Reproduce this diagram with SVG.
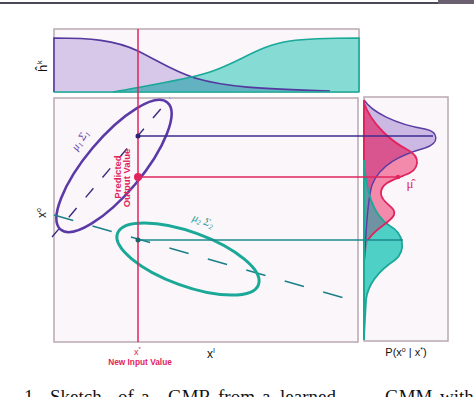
<svg xmlns="http://www.w3.org/2000/svg" width="474" height="397" viewBox="0 0 474 397">
<defs>
<style>
.panel{fill:#fbf6f9;stroke:#b9a9b1;stroke-width:1.5}
.lab{font-family:"Liberation Sans",Arial,sans-serif;fill:#111}
.red{fill:#e0245e}
.bold{font-family:"Liberation Sans",Arial,sans-serif;font-weight:bold;fill:#e0245e}
.greek{font-family:"Liberation Serif","Times New Roman",serif;font-style:italic}
.cap{font-family:"Liberation Serif","Times New Roman",serif;font-size:19px;fill:#111}
</style>
<clipPath id="cpTopP"><path d="M54,38 C90,38 115,40 138,51 C160,62 175,72 195,78 C225,87 260,89 330,91 L54,92 Z"/></clipPath>
<clipPath id="cpRP"><path d="M364,100 C372,112 395,124 425,129 C439,132 440,143 425,148 C400,155 380,165 372,185 C366,205 366,245 364,265 Z"/></clipPath>
<clipPath id="cpRT"><path d="M364,160 C366,190 372,215 390,226 C403,233 407,250 395,260 C380,270 368,282 366,300 C365,320 364,335 364,340 Z"/></clipPath>
</defs>

<!-- top rule -->
<rect x="0" y="2" width="474" height="2" fill="#4a4a55"/>
<rect x="438" y="0" width="36" height="4" fill="#6b6070"/>

<!-- top panel: responsibilities -->
<g id="top-panel">
<rect class="panel" x="54" y="29" width="305" height="63"/>
<path d="M54,38 C90,38 115,40 138,51 C160,62 175,72 195,78 C225,87 260,89 330,91 L54,92 Z" fill="#d7c8ea"/>
<path d="M113,92 C150,85 185,80 210,72 C240,62 260,45 290,41 C310,38 330,38 359,38 L359,92 Z" fill="#86dbd5"/>
<path d="M113,92 C150,85 185,80 210,72 C240,62 260,45 290,41 C310,38 330,38 359,38 L359,92 Z" fill="#62b2c2" clip-path="url(#cpTopP)"/>
<path d="M54,92 L54,38 C90,38 115,40 138,51 C160,62 175,72 195,78 C225,87 260,89 330,91" fill="none" stroke="#54389e" stroke-width="1.6"/>
<path d="M54,92 L359,92" fill="none" stroke="#1aa898" stroke-width="1.4"/>
<path d="M113,92 C150,85 185,80 210,72 C240,62 260,45 290,41 C310,38 330,38 359,38 L359,92" fill="none" stroke="#1aa898" stroke-width="1.6"/>
<text class="lab" font-size="13" transform="translate(47,72) rotate(-90)">ĥ</text>
<text class="lab" font-size="7" transform="translate(42,64) rotate(-90)">k</text>
</g>

<!-- main panel -->
<g id="main-panel">
<rect class="panel" x="54" y="98" width="304" height="244"/>
</g>

<!-- right panel -->
<g id="right-panel">
<rect class="panel" x="364" y="97" width="84" height="244"/>
<path d="M364,100 C372,112 395,124 425,129 C439,132 440,143 425,148 C400,155 380,165 372,185 C366,205 366,245 364,265 Z" fill="#cbb8e3"/>
<path d="M364,160 C366,190 372,215 390,226 C403,233 407,250 395,260 C380,270 368,282 366,300 C365,320 364,335 364,340 Z" fill="#4fd0c6"/>
<path d="M364,103 C372,125 392,142 408,150 C421,157 420,170 405,175 C392,180 380,184 381,194 C382,204 397,207 394,215 C390,223 375,228 368,240 C366,250 365,260 364,265 Z" fill="#f48aab"/>
<path d="M364,103 C372,125 392,142 408,150 C421,157 420,170 405,175 C392,180 380,184 381,194 C382,204 397,207 394,215 C390,223 375,228 368,240 C366,250 365,260 364,265 Z" fill="#d9558f" clip-path="url(#cpRP)"/>
<path d="M364,103 C372,125 392,142 408,150 C421,157 420,170 405,175 C392,180 380,184 381,194 C382,204 397,207 394,215 C390,223 375,228 368,240 C366,250 365,260 364,265 Z" fill="#6f93a2" clip-path="url(#cpRT)"/>
<path d="M364,100 C372,112 395,124 425,129 C439,132 440,143 425,148 C400,155 380,165 372,185 C366,205 366,245 364,265" fill="none" stroke="#5a3ca5" stroke-width="1.4"/>
<path d="M364,160 C366,190 372,215 390,226 C403,233 407,250 395,260 C380,270 368,282 366,300 C365,320 364,335 364,340" fill="none" stroke="#1aa898" stroke-width="1.8"/>
<path d="M364,103 C372,125 392,142 408,150 C421,157 420,170 405,175 C392,180 380,184 381,194 C382,204 397,207 394,215 C390,223 375,228 368,240" fill="none" stroke="#e0245e" stroke-width="1.8"/>
<line x1="364" y1="100" x2="364" y2="340" stroke="#1aa898" stroke-width="2"/>
<line x1="364" y1="100" x2="364" y2="160" stroke="#e0245e" stroke-width="2"/>
</g>

<!-- gaussian components -->
<g id="component-1">
<path d="M52,237 L170,98" fill="none" stroke="#3a2b80" stroke-width="1.4" stroke-dasharray="12,14"/>
<ellipse cx="114" cy="166" rx="83" ry="28" transform="rotate(-50 114 166)" fill="none" stroke="#5b3aa8" stroke-width="2.6"/>
<text class="greek" font-size="11" fill="#5b3aa8" text-anchor="middle" transform="translate(83,142) rotate(-57)">μ<tspan font-size="7" dy="2">1</tspan><tspan dy="-2"> Σ</tspan><tspan font-size="7" dy="2">1</tspan></text>
</g>
<g id="component-2">
<path d="M54,215 L358,302" fill="none" stroke="#1a7f86" stroke-width="1.4" stroke-dasharray="20,20"/>
<ellipse cx="188" cy="259" rx="75" ry="27" transform="rotate(20 188 259)" fill="none" stroke="#1aa898" stroke-width="3"/>
<text class="greek" font-size="11" fill="#1a9a96" text-anchor="middle" transform="translate(202,224) rotate(20)">μ<tspan font-size="7" dy="2">2</tspan><tspan dy="-2"> Σ</tspan><tspan font-size="7" dy="2">2</tspan></text>
</g>

<!-- connectors -->
<g id="connectors">
<line x1="138" y1="29" x2="138" y2="342" stroke="#e0245e" stroke-width="1.5"/>
<line x1="138" y1="136" x2="433" y2="136" stroke="#3c2d8f" stroke-width="1.5"/>
<line x1="138" y1="177" x2="398" y2="177" stroke="#e0245e" stroke-width="1.6"/>
<line x1="138" y1="240" x2="403" y2="240" stroke="#1a8a8e" stroke-width="1.5"/>
<circle cx="138" cy="136" r="2.5" fill="#2c2478"/>
<circle cx="138" cy="177" r="4" fill="#e0245e"/>
<circle cx="398" cy="177" r="2.2" fill="#e0245e"/>
<circle cx="138" cy="240" r="2.5" fill="#17666e"/>
</g>

<!-- labels -->
<g id="labels">
<text class="bold" font-size="9.5" text-anchor="middle" transform="translate(121,177) rotate(-90)">Predicted</text>
<text class="bold" font-size="9.5" text-anchor="middle" transform="translate(130,178) rotate(-90)">Output Value</text>
<text font-family="Liberation Serif,serif" font-size="13" class="red" text-anchor="middle" x="410" y="188">μ̂</text>
<text class="lab" font-size="12" text-anchor="middle" transform="translate(46,213) rotate(-90)">x<tspan font-size="7" dy="-5">o</tspan></text>
<text class="lab" font-size="12" x="207" y="358">x<tspan font-size="7" dy="-5">I</tspan></text>
<text class="lab red" font-size="9" x="134" y="355" style="fill:#e0245e">x<tspan font-size="6" dy="-4">*</tspan></text>
<text class="bold" font-size="8.3" text-anchor="middle" x="140" y="365">New Input Value</text>
<text class="lab" font-size="11" text-anchor="middle" x="406" y="356">P(x<tspan font-size="7" dy="-4">o</tspan><tspan dy="4"> | x</tspan><tspan font-size="7" dy="-4">*</tspan><tspan dy="4">)</tspan></text>
<text class="cap" y="403"><tspan x="24">1.</tspan><tspan x="50">Sketch</tspan><tspan x="118">of</tspan><tspan x="141">a</tspan><tspan x="168">GMR</tspan><tspan x="218">from</tspan><tspan x="262">a</tspan><tspan x="280">learned</tspan><tspan x="385">GMM</tspan><tspan x="440">with</tspan></text>
</g>
</svg>
